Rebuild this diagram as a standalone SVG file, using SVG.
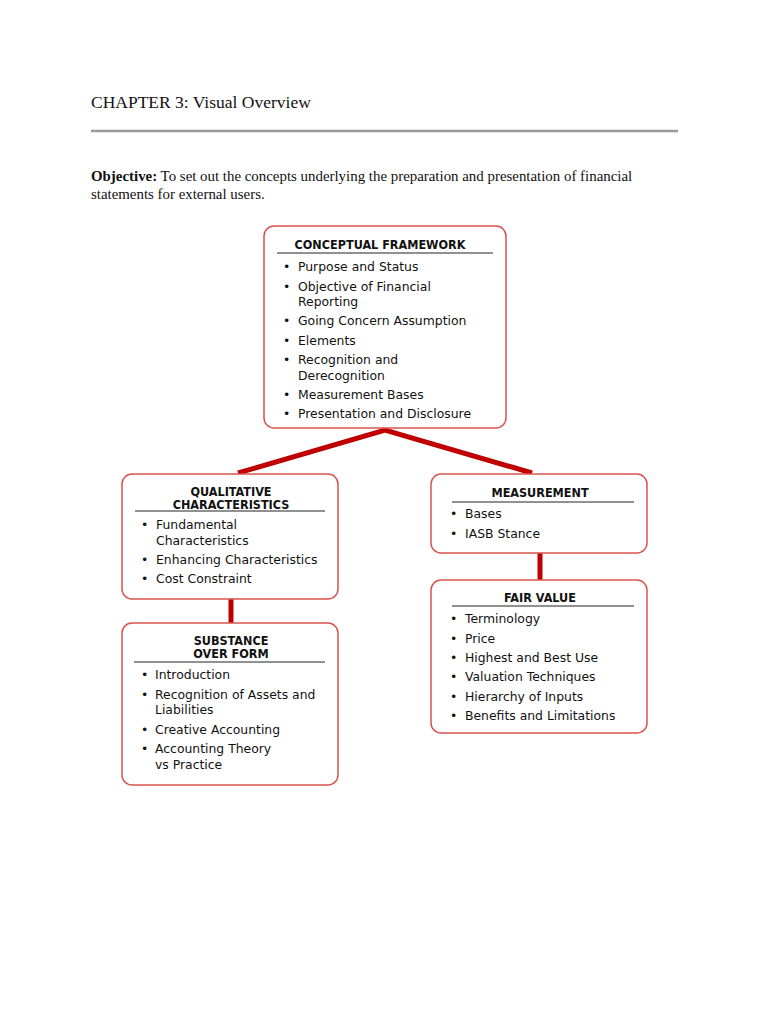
<svg xmlns="http://www.w3.org/2000/svg" width="768" height="1024" viewBox="0 0 768 1024">
<style>
.serif{font-family:"Liberation Serif","Times New Roman",serif;fill:#111}
.box{fill:#fff;stroke:#d9534f;stroke-width:1.5}
.ttl{font-family:"DejaVu Sans Condensed","DejaVu Sans",sans-serif;font-weight:bold;font-size:12.5px;fill:#111;text-anchor:middle}
.txt{font-family:"DejaVu Sans","Verdana",sans-serif;font-size:12.4px;fill:#111}
.ul{stroke:#222;stroke-width:1}
.con{stroke:#c00000;stroke-width:5;fill:none}
</style>
<rect width="768" height="1024" fill="#fff"/>
<text class="serif" x="91" y="108" font-size="17.5">CHAPTER 3: Visual Overview</text>
<line x1="91" y1="131" x2="678" y2="131" stroke="#9a9a9a" stroke-width="2.5"/>
<text class="serif" x="91" y="181" font-size="14.9"><tspan font-weight="bold">Objective:</tspan> To set out the concepts underlying the preparation and presentation of financial</text>
<text class="serif" x="91" y="199" font-size="14.9">statements for external users.</text>

<g id="connectors">
<polyline class="con" points="238,473 385,430 532,473"/>
<line class="con" x1="540" y1="553" x2="540" y2="580"/>
<line class="con" x1="231" y1="599" x2="231" y2="623"/>
</g>

<g id="conceptual-framework">
<rect class="box" x="264" y="226" width="242" height="202" rx="10"/>
<text class="ttl" x="380" y="249">CONCEPTUAL FRAMEWORK</text>
<line class="ul" x1="277" y1="253" x2="493" y2="253"/>
<g class="txt">
<text x="283" y="271">•</text><text x="298" y="271">Purpose and Status</text>
<text x="283" y="291">•</text><text x="298" y="291">Objective of Financial</text>
<text x="298" y="306">Reporting</text>
<text x="283" y="325">•</text><text x="298" y="325">Going Concern Assumption</text>
<text x="283" y="345">•</text><text x="298" y="345">Elements</text>
<text x="283" y="364">•</text><text x="298" y="364">Recognition and</text>
<text x="298" y="380">Derecognition</text>
<text x="283" y="399">•</text><text x="298" y="399">Measurement Bases</text>
<text x="283" y="418">•</text><text x="298" y="418">Presentation and Disclosure</text>
</g>
</g>

<g id="qualitative-characteristics">
<rect class="box" x="122" y="474" width="216" height="125" rx="10"/>
<text class="ttl" x="231" y="496">QUALITATIVE</text>
<text class="ttl" x="231" y="509">CHARACTERISTICS</text>
<line class="ul" x1="135" y1="511" x2="325" y2="511"/>
<g class="txt">
<text x="141" y="529">•</text><text x="156" y="529">Fundamental</text>
<text x="156" y="545">Characteristics</text>
<text x="141" y="564">•</text><text x="156" y="564">Enhancing Characteristics</text>
<text x="141" y="583">•</text><text x="156" y="583">Cost Constraint</text>
</g>
</g>

<g id="measurement">
<rect class="box" x="431" y="474" width="216" height="79" rx="10"/>
<text class="ttl" x="540" y="497">MEASUREMENT</text>
<line class="ul" x1="452" y1="502" x2="634" y2="502"/>
<g class="txt">
<text x="450" y="518">•</text><text x="465" y="518">Bases</text>
<text x="450" y="538">•</text><text x="465" y="538">IASB Stance</text>
</g>
</g>

<g id="fair-value">
<rect class="box" x="431" y="580" width="216" height="153" rx="10"/>
<text class="ttl" x="540" y="602">FAIR VALUE</text>
<line class="ul" x1="452" y1="606" x2="634" y2="606"/>
<g class="txt">
<text x="450" y="623">•</text><text x="465" y="623">Terminology</text>
<text x="450" y="643">•</text><text x="465" y="643">Price</text>
<text x="450" y="662">•</text><text x="465" y="662">Highest and Best Use</text>
<text x="450" y="681">•</text><text x="465" y="681">Valuation Techniques</text>
<text x="450" y="701">•</text><text x="465" y="701">Hierarchy of Inputs</text>
<text x="450" y="720">•</text><text x="465" y="720">Benefits and Limitations</text>
</g>
</g>

<g id="substance-over-form">
<rect class="box" x="122" y="623" width="216" height="162" rx="10"/>
<text class="ttl" x="231" y="645">SUBSTANCE</text>
<text class="ttl" x="231" y="658">OVER FORM</text>
<line class="ul" x1="134" y1="662" x2="325" y2="662"/>
<g class="txt">
<text x="141" y="679">•</text><text x="155" y="679">Introduction</text>
<text x="141" y="699">•</text><text x="155" y="699">Recognition of Assets and</text>
<text x="155" y="714">Liabilities</text>
<text x="141" y="734">•</text><text x="155" y="734">Creative Accounting</text>
<text x="141" y="753">•</text><text x="155" y="753">Accounting Theory</text>
<text x="155" y="769">vs Practice</text>
</g>
</g>
</svg>
